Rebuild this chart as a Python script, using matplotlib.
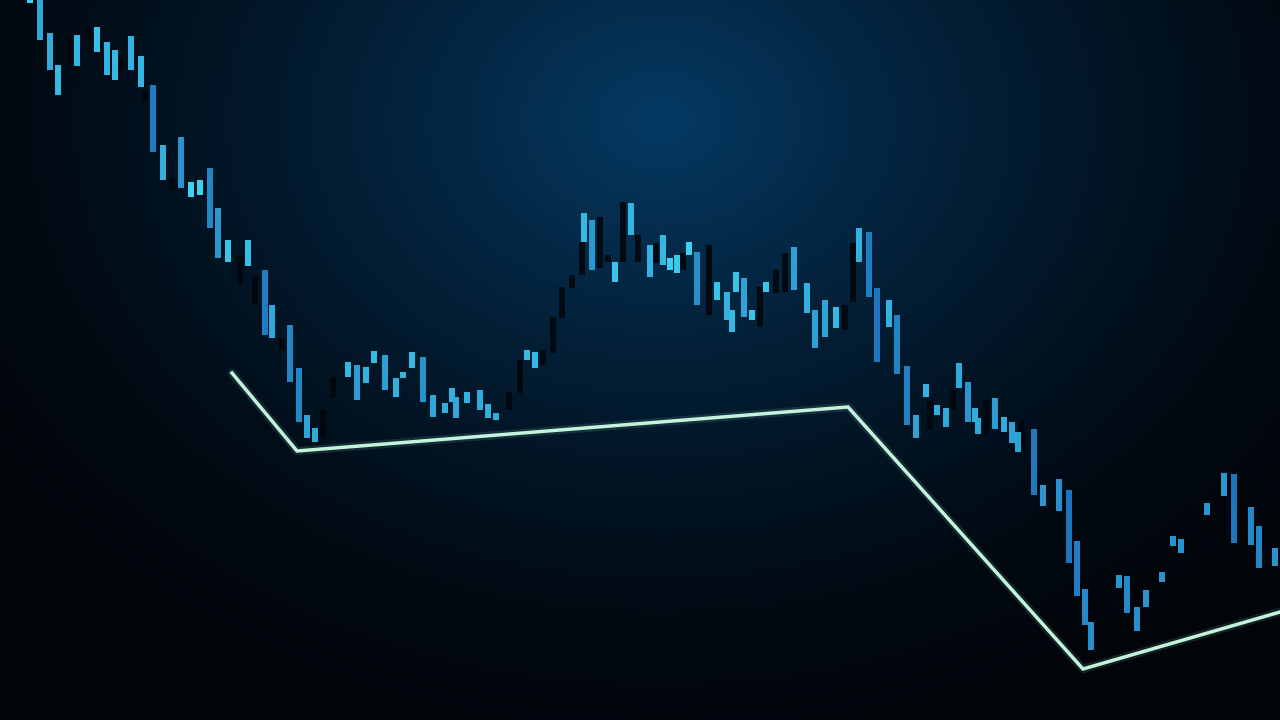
#!/usr/bin/env python3

import matplotlib
matplotlib.use("Agg")
import matplotlib.pyplot as plt
import numpy as np

# Candles: time position, open and close
# (price scale runs downward like the screen, so a bigger close = a fall)
t = [30, 40, 50, 58, 69, 77, 88, 97, 107, 115, 122, 131, 141, 145, 153, 163,
     172, 181, 191, 200, 210, 218, 228, 240, 248, 255, 265, 272, 282, 290, 299,
     307, 315, 323, 333, 348, 357, 366, 374, 385, 396, 403, 412, 423, 433, 445,
     452, 456, 467, 480, 488, 496, 509, 520, 527, 535, 543, 553, 562, 572, 582,
     584, 592, 600, 608, 615, 623, 631, 638, 650, 656, 663, 670, 677, 683, 689,
     697, 709, 717, 727, 732, 736, 744, 752, 760, 766, 776, 785, 794, 807, 815,
     825, 836, 845, 853, 859, 869, 877, 889, 897, 907, 916, 926, 930, 937, 946,
     953, 959, 968, 975, 978, 986, 995, 1004, 1012, 1018, 1022, 1034, 1043,
     1051, 1059, 1069, 1077, 1085, 1091, 1097, 1107, 1112, 1119, 1127, 1137,
     1146, 1153, 1162, 1173, 1181, 1190, 1207, 1212, 1224, 1234, 1242, 1251,
     1259, 1267, 1275]
opens = [0, 0, 33, 65, 63, 35, 40, 27, 42, 50, 70, 36, 56, 102, 85, 145,
         190, 137, 182, 180, 168, 208, 240, 285, 240, 305, 270, 305, 350, 325, 368,
         415, 428, 437, 397, 362, 365, 367, 351, 355, 378, 372, 352, 357, 395, 403,
         388, 397, 392, 390, 404, 413, 410, 393, 350, 352, 365, 353, 318, 288, 275,
         213, 220, 268, 262, 262, 262, 203, 262, 245, 263, 235, 258, 255, 270, 242,
         252, 315, 282, 292, 310, 272, 278, 310, 327, 282, 293, 292, 247, 283, 310,
         300, 307, 330, 302, 228, 232, 288, 300, 315, 366, 415, 384, 430, 405, 408,
         410, 363, 382, 408, 418, 435, 398, 417, 422, 432, 450, 429, 485,
         525, 479, 490, 541, 589, 622, 615, 620, 605, 575, 576, 607,
         590, 595, 572, 536, 539, 545, 503, 515, 473, 474, 520, 507,
         526, 570, 548]
closes = [3, 40, 70, 95, 37, 66, 27, 52, 75, 80, 60, 70, 87, 92, 152, 180,
          178, 188, 197, 195, 228, 258, 262, 255, 266, 275, 335, 338, 338, 382, 422,
          438, 442, 410, 377, 377, 400, 383, 363, 390, 397, 378, 368, 402, 417, 413,
          402, 418, 403, 410, 418, 420, 392, 360, 360, 368, 350, 317, 287, 275, 242,
          242, 270, 217, 255, 282, 202, 235, 235, 277, 243, 265, 270, 273, 253, 255,
          305, 245, 300, 320, 332, 292, 317, 320, 287, 292, 270, 253, 290, 313, 348,
          337, 328, 305, 243, 262, 297, 362, 327, 374, 425, 438, 397, 400, 415, 427,
          390, 388, 422, 422, 434, 400, 429, 432, 443, 452, 420, 495, 506,
          510, 511, 563, 596, 625, 650, 600, 595, 580, 588, 613, 631,
          607, 580, 582, 546, 553, 525, 515, 495, 496, 543, 500, 545,
          568, 560, 566]

# Trend line drawn over the candles
line_t = [232, 297, 848, 1083, 1280]
line_p = [373, 451, 407, 669, 612]

W, H = 1280, 720

fig = plt.figure(figsize=(12.8, 7.2), dpi=100)
ax = fig.add_axes([0, 0, 1, 1])

# dark navy background with a soft glow at the top centre
yy, xx = np.mgrid[0:H, 0:W]
r = np.sqrt(((xx - 660) / 820.0) ** 2 + ((yy - 120) / 640.0) ** 2)
glow = np.clip(1 - r, 0, 1) ** 1.5
inner = np.array([5, 58, 100]) / 255.0
outer = np.array([1, 5, 10]) / 255.0
bg = outer + glow[..., None] * (inner - outer)
ax.imshow(bg, extent=(0, W, H, 0), aspect="auto", zorder=0)

cyan = np.array([0.24, 0.82, 0.94])
blue = np.array([0.12, 0.46, 0.74])

o = np.array(opens, dtype=float)
c = np.array(closes, dtype=float)
x = np.array(t, dtype=float)
falling = c > o

# falling candles are blue, brighter when short and high on the screen
body = np.abs(c - o)
mid = (o + c) / 2
mix = np.clip(1 - (body - 15) / 55, 0, 1) * np.clip(1 - (mid - 250) / 420, 0.35, 1)
cols = [tuple(blue + m * (cyan - blue)) for m in mix[falling]]

ax.bar(x[~falling], c[~falling] - o[~falling], bottom=o[~falling], width=6.5,
       color="#02070d", alpha=0.9, zorder=2)
ax.bar(x[falling], c[falling] - o[falling], bottom=o[falling], width=5.5,
       color=cols, zorder=3)

# trend line with a faint glow
ax.plot(line_t, line_p, color="#9ff0d0", lw=6, alpha=0.12, zorder=4,
        solid_capstyle="round")
ax.plot(line_t, line_p, color="#c3f3dc", lw=2.5, zorder=5,
        solid_joinstyle="miter")

ax.set_xlim(0, W)
ax.set_ylim(H, 0)
ax.axis("off")

fig.savefig("out.png", dpi=100)
